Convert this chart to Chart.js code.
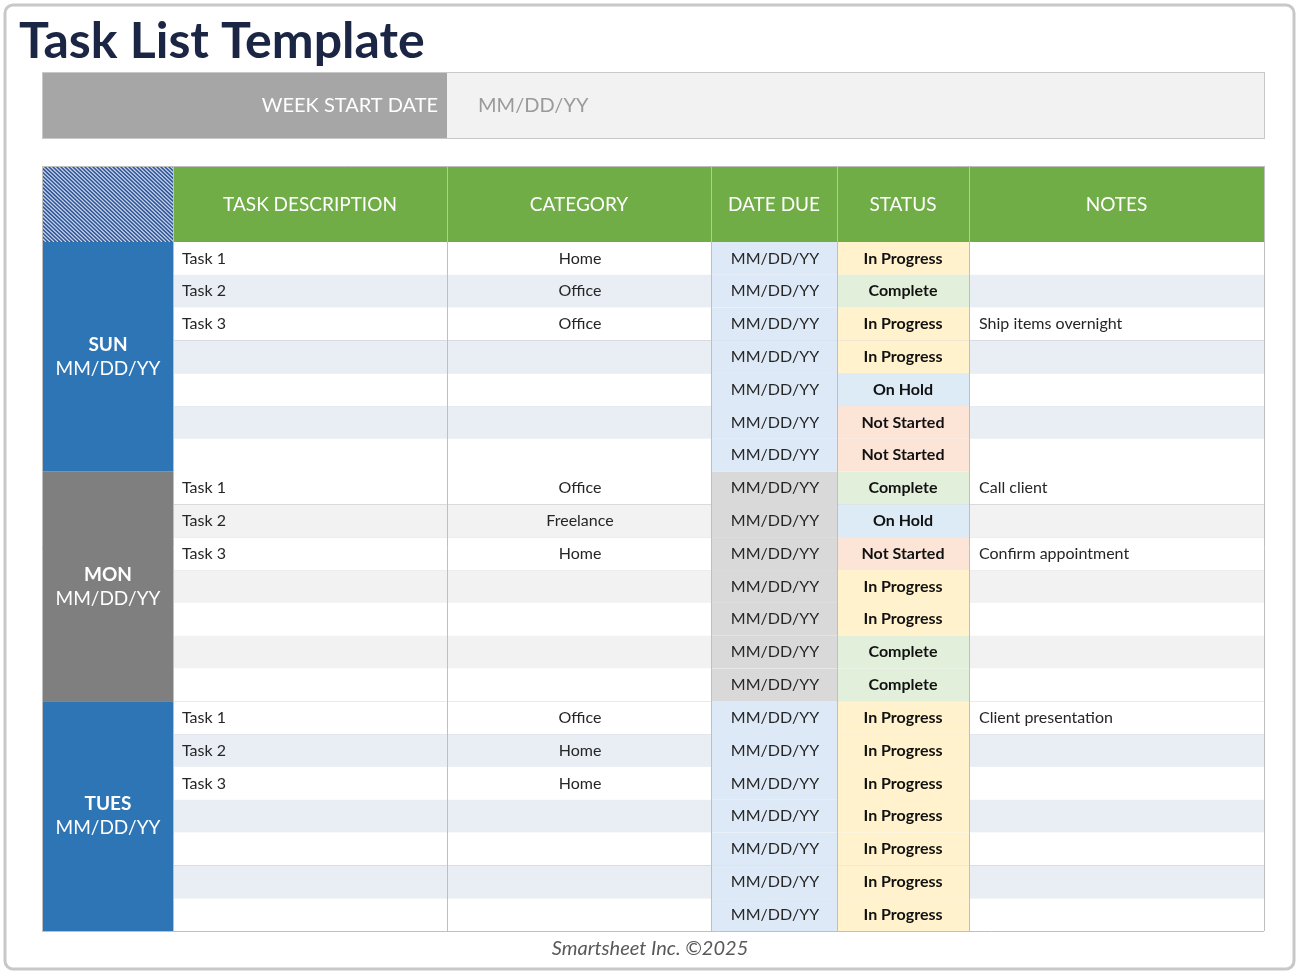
<!DOCTYPE html>
<html>
<head>
<meta charset="utf-8">
<script src="https://cdn.jsdelivr.net/npm/chart.js@4"></script>
<style>
  html, body { margin: 0; padding: 0; background: #fff; }
  canvas { display: block; }
</style>
</head>
<body>
<canvas id="c" width="1300" height="974"></canvas>
<script>
// table content
const title = 'Task List Template';
const weekLabel = 'WEEK START DATE';
const datePlaceholder = 'MM/DD/YY';
const headers = ['TASK DESCRIPTION', 'CATEGORY', 'DATE DUE', 'STATUS', 'NOTES'];
const days = ['SUN', 'MON', 'TUES'];
const tasks = [
  'Task 1', 'Task 2', 'Task 3', '', '', '', '',
  'Task 1', 'Task 2', 'Task 3', '', '', '', '',
  'Task 1', 'Task 2', 'Task 3', '', '', '', '',
];
const categories = [
  'Home', 'Office', 'Office', '', '', '', '',
  'Office', 'Freelance', 'Home', '', '', '', '',
  'Office', 'Home', 'Home', '', '', '', '',
];
const statuses = [
  'In Progress', 'Complete', 'In Progress', 'In Progress', 'On Hold', 'Not Started', 'Not Started',
  'Complete', 'On Hold', 'Not Started', 'In Progress', 'In Progress', 'Complete', 'Complete',
  'In Progress', 'In Progress', 'In Progress', 'In Progress', 'In Progress', 'In Progress', 'In Progress',
];
const notes = [
  '', '', 'Ship items overnight', '', '', '', '',
  'Call client', '', 'Confirm appointment', '', '', '', '',
  'Client presentation', '', '', '', '', '', '',
];
const footer = 'Smartsheet Inc. ©2025';

// layout grid in scale units
const colEdges = [42, 173, 447, 711, 837, 969, 1264];
const rowTop = 242, rowBottom = 931, headTop = 166;
const rowsPerDay = 7;

const STATUS_BG = {
  'In Progress': '#fff2cc',
  'Complete': '#e2efda',
  'On Hold': '#ddebf7',
  'Not Started': '#fce4d6',
};
const FONT = "'Lato', 'Open Sans', sans-serif";

const tablePlugin = {
  id: 'table',
  afterDraw(chart) {
    const g = chart.ctx;
    const sx = chart.scales.x, sy = chart.scales.y;
    const X = (v) => sx.getPixelForValue(v);
    const Y = (v) => sy.getPixelForValue(v);
    const rect = (x0, y0, x1, y1, fill) => {
      g.fillStyle = fill;
      g.fillRect(X(x0), Y(y0), X(x1) - X(x0), Y(y1) - Y(y0));
    };
    const text = (s, x, y, font, color, align) => {
      g.font = font; g.fillStyle = color; g.textAlign = align || 'left';
      g.textBaseline = 'middle';
      g.fillText(s, X(x), Y(y));
    };
    g.save();

    // outer frame
    g.strokeStyle = '#c8c8c8'; g.lineWidth = 3;
    g.beginPath();
    g.roundRect(X(5), Y(5), X(1294) - X(5), Y(969) - Y(5), 8);
    g.stroke();

    text(title, 19, 42, `bold 50px ${FONT}`, '#1b2544');

    // week start bar
    rect(42, 72, 447, 138, '#a6a6a6');
    rect(447, 72, 1264, 138, '#f2f2f2');
    g.strokeStyle = '#c9c9c9'; g.lineWidth = 1;
    g.strokeRect(X(42) + 0.5, Y(72) + 0.5, X(1264) - X(42), Y(138) - Y(72));
    text(weekLabel, 438, 106, `20px ${FONT}`, '#fff', 'right');
    text(datePlaceholder, 478, 106, `20px ${FONT}`, '#9a9a9a');

    // header
    rect(42, headTop, 173, rowTop, '#2f5597');
    g.save();
    g.beginPath();
    g.rect(X(42), Y(headTop), X(173) - X(42), Y(rowTop) - Y(headTop));
    g.clip();
    g.strokeStyle = '#c9d6ea'; g.lineWidth = 1.2;
    for (let k = -80; k < 140; k += 4) {
      g.beginPath();
      g.moveTo(X(42 + k), Y(headTop));
      g.lineTo(X(42 + k + 80), Y(rowTop));
      g.stroke();
    }
    g.restore();
    rect(173, headTop, 1264, rowTop, '#70ad47');
    headers.forEach((h, i) => {
      text(h, (colEdges[i + 1] + colEdges[i + 2]) / 2, 205, `19px ${FONT}`, '#fff', 'center');
    });

    const rh = (rowBottom - rowTop) / statuses.length;
    statuses.forEach((st, r) => {
      const y0 = rowTop + r * rh, y1 = y0 + rh, ym = (y0 + y1) / 2;
      const day = Math.floor(r / rowsPerDay);
      const odd = (r % rowsPerDay) % 2 === 1;
      const gray = day === 1;
      rect(173, y0, 1264, y1, odd ? (gray ? '#f2f2f2' : '#e9edf4') : '#ffffff');
      rect(711, y0, 837, y1, gray ? '#d9d9d9' : '#dde9f6');
      rect(837, y0, 969, y1, STATUS_BG[st]);
      text(tasks[r], 182, ym, `16px ${FONT}`, '#262626');
      text(categories[r], 580, ym, `16px ${FONT}`, '#262626', 'center');
      text(datePlaceholder, 775, ym, `16px ${FONT}`, '#262626', 'center');
      text(st, 903, ym, `bold 16px ${FONT}`, '#111', 'center');
      text(notes[r], 979, ym, `16px ${FONT}`, '#262626');
      g.strokeStyle = '#bfbfbf'; g.lineWidth = 1;
      g.beginPath();
      g.moveTo(X(173), Math.round(Y(y1)) + 0.5);
      g.lineTo(X(1264), Math.round(Y(y1)) + 0.5);
      g.stroke();
    });

    // day column
    days.forEach((d, i) => {
      const y0 = rowTop + i * rowsPerDay * rh, y1 = y0 + rowsPerDay * rh;
      rect(42, y0, 173, y1, i === 1 ? '#7f7f7f' : '#2e75b6');
      const ym = (y0 + y1) / 2;
      text(d, 108, ym - 12, `bold 19px ${FONT}`, '#fff', 'center');
      text(datePlaceholder, 108, ym + 12, `19px ${FONT}`, '#fff', 'center');
      g.strokeStyle = '#bfbfbf';
      g.beginPath();
      g.moveTo(X(42), Math.round(Y(y1)) + 0.5);
      g.lineTo(X(173), Math.round(Y(y1)) + 0.5);
      g.stroke();
    });

    // vertical lines
    g.strokeStyle = '#bfbfbf'; g.lineWidth = 1;
    colEdges.forEach((cx) => {
      g.beginPath();
      g.moveTo(Math.round(X(cx)) + 0.5, Y(headTop));
      g.lineTo(Math.round(X(cx)) + 0.5, Y(rowBottom));
      g.stroke();
    });
    g.beginPath();
    g.moveTo(X(42), Math.round(Y(headTop)) + 0.5);
    g.lineTo(X(1264), Math.round(Y(headTop)) + 0.5);
    g.stroke();

    text(footer, 650, 949, `italic 20px ${FONT}`, '#595959', 'center');
    g.restore();
  },
};

new Chart(document.getElementById('c'), {
  type: 'scatter',
  data: { datasets: [{ data: [] }] },
  options: {
    responsive: false,
    animation: false,
    devicePixelRatio: 1,
    layout: { padding: 0 },
    plugins: { legend: { display: false }, tooltip: { enabled: false } },
    scales: {
      x: { type: 'linear', min: 0, max: 1300, display: false },
      y: { type: 'linear', min: 0, max: 974, reverse: true, display: false },
    },
  },
  plugins: [tablePlugin],
});
</script>
</body>
</html>
